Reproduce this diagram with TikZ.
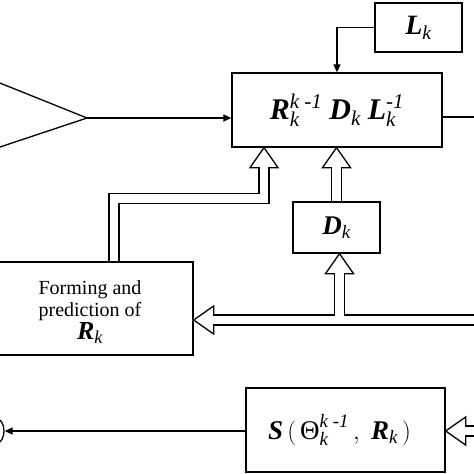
\documentclass[tikz,border=0pt]{standalone}
\usepackage{amsmath}
\usepackage{fontspec}
\setmainfont{Liberation Serif}
\usepackage{tikz}
\usetikzlibrary{positioning,calc,shapes,arrows.meta}

\newcommand{\bi}[1]{\text{\bfseries\itshape #1}}
\newcommand{\kk}{\text{\itshape k}}

\begin{document}
\begin{tikzpicture}[x=1pt,y=1pt,line join=miter,
  box/.style={draw=black,line width=1.3pt,inner sep=0pt},
  arr/.style={line width=1.3pt,-{Triangle[length=8pt,width=7pt]}},
  dbl/.style={line width=1.3pt,double=white,double distance=8.7pt}]

  \useasboundingbox (0,0) rectangle (474,-474);

  % #1 is tip
  % #2 is direction
  \newcommand{\hollowhead}[2]{
    \draw[line width=1.3pt,shift={#1},rotate=#2] (-20,5) -- (-20,14) -- (0,0) -- (-20,-14) -- (-20,-5);
  }

  \node[box,minimum width=210pt,minimum height=74pt] (box_rdl) at (337,-110)
    {\fontsize{30}{34}\selectfont $\bi{R}_{\kk}^{\text{\itshape k -1}}\;\bi{D}_{\kk}\;\bi{L}_{\kk}^{\text{\itshape -1}}$};
  \node[box,minimum width=87pt,minimum height=49pt] (box_lk) at (418.5,-27.5)
    {\fontsize{28}{30}\selectfont $\bi{L}_{\kk}$};
  \node[box,minimum width=87pt,minimum height=51pt] (box_dk) at (336.5,-227.5)
    {\fontsize{27}{30}\selectfont $\bi{D}_{\kk}$};
  \node[box,minimum width=206pt,minimum height=93pt] (box_form) at (90,-308.5) {};
  \node[align=center,font=\fontsize{20}{22}\selectfont] (text_form) at (90,-312)
    {Forming and\\prediction of\\[1pt]{\fontsize{26}{26}\selectfont$\bi{R}_{\kk}$}};
  \node[box,minimum width=199pt,minimum height=84pt] (box_s) at (345.5,-430)
    {\fontsize{27}{30}\selectfont $\bi{S}\,(\,\text{Θ}_{\kk}^{\text{\itshape k -1}}\,,\;\bi{R}_{\kk}\,)$\hspace*{12pt}};

  % amplifier
  \coordinate (amp) at (87,-118);
  \draw[line width=1.3pt] (-30,-71) -- (amp) -- (-30,-157);
  \draw[arr] (amp) -- (amp -| box_rdl.west);

  \draw[arr] (box_lk.west) -| (box_rdl.north);
  \coordinate (out_r) at (480,-117);
  \draw[line width=1.3pt] (out_r -| box_rdl.east) -- (out_r);

  % double connectors
  \draw[dbl] ($(box_form.north)+(24,0)$) |- ($(box_rdl.south)+(-73,-50.5)$) -- ($(box_rdl.south)+(-73,-19.4)$);
  \hollowhead{($(box_rdl.south)+(-73,0)$)}{90}

  \draw[dbl] (box_dk.north) -- ($(box_dk.north |- box_rdl.south)+(0,-19.4)$);
  \hollowhead{(box_dk.north |- box_rdl.south)}{90}

  \coordinate (in_r) at (480,-320);
  \draw[dbl] (in_r) -- ($(in_r -| box_form.east)+(19.4,0)$);
  \hollowhead{(in_r -| box_form.east)}{180}
  \draw[dbl] ($(in_r -| box_dk.south)+(3,4)$) -- ($(box_dk.south)+(3,-19.4)$);
  \hollowhead{($(box_dk.south)+(3,0)$)}{90}

  \coordinate (in_s) at (480,-431);
  \draw[dbl] (in_s) -- ($(in_s -| box_s.east)+(19.4,0)$);
  \hollowhead{(in_s -| box_s.east)}{180}

  % output
  \node[draw,line width=1.3pt,ellipse,minimum width=14pt,minimum height=24pt,inner sep=0pt] (out_l) at (-3,-431) {};
  \draw[arr] (box_s.west |- out_l.east) -- (out_l.east);

\end{tikzpicture}
\end{document}
